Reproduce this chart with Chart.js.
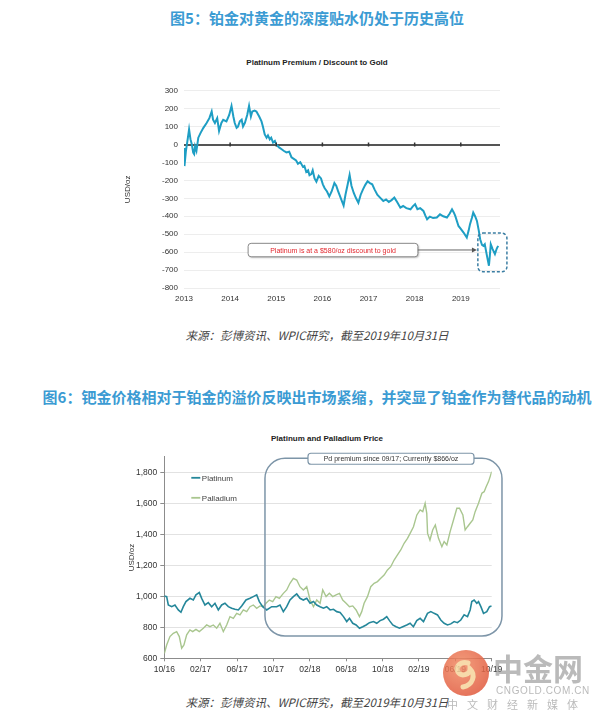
<!DOCTYPE html>
<html>
<head>
<meta charset="utf-8">
<title>铂金与钯金</title>
<script src="https://cdn.jsdelivr.net/npm/chart.js@4.4.1/dist/chart.umd.min.js"></script>
<style>
    html, body { margin: 0; padding: 0; background: #fff; }
    body { position: relative; width: 600px; height: 723px; overflow: hidden; font-family: "Noto Sans CJK SC", sans-serif; }
    .cn-title { position: absolute; left: 0; width: 634px; text-align: center; font-size: 15px; font-weight: bold; color: #3b9bd3; line-height: 20px; white-space: nowrap; }
    .en-title { position: absolute; width: 300px; text-align: center; font: bold 8px "Liberation Sans", Arial, sans-serif; color: #222; line-height: 10px; }
    .source { position: absolute; left: 0; width: 634px; text-align: center; font-size: 11.5px; font-style: italic; color: #444; line-height: 14px; }
    canvas { position: absolute; }
    .mark { position: absolute; color: rgba(140, 140, 140, 0.6); white-space: nowrap; }
</style>
</head>
<body>
<div class="cn-title" style="top: 8px;">图5：铂金对黄金的深度贴水仍处于历史高位</div>
<div class="en-title" style="left: 167px; top: 58px;">Platinum Premium / Discount to Gold</div>
<canvas id="premiumChart" width="410" height="260" style="left: 110px; top: 50px; width: 410px; height: 260px;"></canvas>
<div class="source" style="top: 328px;">来源：彭博资讯、WPIC研究，截至2019年10月31日</div>

<div class="cn-title" style="top: 387px;">图6：钯金价格相对于铂金的溢价反映出市场紧缩，并突显了铂金作为替代品的动机</div>
<div class="en-title" style="left: 177px; top: 434px;">Platinum and Palladium Price</div>
<canvas id="priceChart" width="410" height="255" style="left: 110px; top: 425px; width: 410px; height: 255px;"></canvas>
<div class="source" style="top: 695px;">来源：彭博资讯、WPIC研究，截至2019年10月31日</div>

<!-- watermark -->
<svg style="position:absolute; left:443px; top:650px; opacity:0.85;" width="46" height="46" viewBox="0 0 46 46">
    <defs>
        <radialGradient id="lg" cx="40%" cy="35%" r="70%">
            <stop offset="0" stop-color="#f28d66"/>
            <stop offset="1" stop-color="#e0583c"/>
        </radialGradient>
    </defs>
    <circle cx="23" cy="23" r="23" fill="url(#lg)"/>
    <path d="M25 13 C17 11 12 17 15 22 C18 27 27 25 27 19 C33 25 30 35 20 37" fill="none" stroke="#f6d49c" stroke-width="5" stroke-linecap="round"/>
</svg>
<div class="mark" style="left: 493px; top: 650px; font-size: 30px; font-weight: bold; line-height: 34px;">中金网</div>
<div class="mark" style="left: 496px; top: 685px; font: 10px 'Liberation Sans', sans-serif; letter-spacing: 0.6px; line-height: 12px;">CNGOLD.COM.CN</div>
<div class="mark" style="left: 447px; top: 697px; font-size: 11px; letter-spacing: 9px; line-height: 14px;">中文财经新媒体</div>

<script>
// Fig.5: platinum premium / discount to gold (USD/oz), x in decimal years
const premiumYears = [
    2013.00, 2013.01, 2013.04, 2013.08, 2013.11, 2013.14, 2013.17, 2013.20, 2013.22, 2013.24, 2013.27, 2013.31,
    2013.36, 2013.42, 2013.49, 2013.55, 2013.60, 2013.63, 2013.67, 2013.72, 2013.76, 2013.81, 2013.85, 2013.92, 2013.98,
    2014.03, 2014.07, 2014.10, 2014.14, 2014.17, 2014.21, 2014.25, 2014.28, 2014.32, 2014.37, 2014.41, 2014.45,
    2014.48, 2014.53, 2014.57, 2014.63, 2014.68, 2014.71, 2014.75, 2014.79, 2014.82, 2014.86, 2014.89, 2014.93, 2014.97,
    2015.00, 2015.06, 2015.11, 2015.16, 2015.22, 2015.28, 2015.33, 2015.38, 2015.43, 2015.47, 2015.52, 2015.58,
    2015.61, 2015.65, 2015.69, 2015.72, 2015.76, 2015.79, 2015.83, 2015.87, 2015.92, 2015.97,
    2016.01, 2016.05, 2016.10, 2016.15, 2016.20, 2016.26, 2016.30, 2016.34, 2016.40, 2016.46, 2016.50, 2016.55,
    2016.59, 2016.63, 2016.68, 2016.73, 2016.78, 2016.83, 2016.88, 2016.93, 2016.98,
    2017.03, 2017.08, 2017.13, 2017.19, 2017.25, 2017.32, 2017.38, 2017.44, 2017.50, 2017.56, 2017.62, 2017.69,
    2017.75, 2017.82, 2017.91, 2017.96,
    2018.01, 2018.06, 2018.12, 2018.19, 2018.23, 2018.27, 2018.33, 2018.40, 2018.48, 2018.55, 2018.62, 2018.70,
    2018.76, 2018.81, 2018.85, 2018.88, 2018.95,
    2019.00, 2019.06, 2019.13, 2019.17, 2019.20, 2019.24, 2019.27, 2019.31, 2019.35, 2019.39, 2019.42, 2019.46,
    2019.49, 2019.52, 2019.56, 2019.59, 2019.61, 2019.63, 2019.65, 2019.69, 2019.74, 2019.78, 2019.81
];
const premiumValues = [
    -20, -120, -40, 30, 84, 30, 0, -45, -53, -10, -35, 38,
    65, 93, 120, 147, 184, 138, 120, 147, 75, 120, 138, 129, 165,
    215, 156, 120, 93, 100, 129, 138, 100, 120, 165, 215, 156,
    184, 189, 184, 156, 129, 100, 56, 38, 51, 29, 38, 11, 20,
    0, -16, -25, -35, -44, -40, -71, -80, -89, -107, -98, -125,
    -120, -153, -144, -171, -165, -144, -189, -207, -175, -189,
    -222, -244, -262, -289, -262, -215, -230, -260, -300, -340, -280, -220,
    -170, -230, -270, -300, -325, -280, -250, -225, -205,
    -215, -222, -250, -280, -296, -315, -306, -320, -310, -296, -320, -352,
    -343, -355, -361, -345,
    -333, -361, -355, -370, -395, -417, -402, -410, -407, -389, -400, -407,
    -385, -361, -380, -398, -454,
    -470, -491, -519, -480, -444, -410, -380, -400, -426, -480, -528, -560,
    -565, -556, -611, -650, -676, -620, -556, -583, -611, -580, -565
];
const yearLabels = ['2013', '2014', '2015', '2016', '2017', '2018', '2019'];
const premiumTicks = [300, 200, 100, 0, -100, -200, -300, -400, -500, -600, -700, -800];

// Fig.6: prices in USD/oz, x = months since Oct 2016
const monthLabels = ['10/16', '02/17', '06/17', '10/17', '02/18', '06/18', '10/18', '02/19', '06/19', '10/19'];
const priceTicks = [600, 800, 1000, 1200, 1400, 1600, 1800];
const ptMonths = [
    0.00, 0.26, 0.44, 0.81, 1.17, 1.54, 1.83, 2.09, 2.38, 2.82, 3.19, 3.48, 3.85, 4.11, 4.47, 4.84, 5.21, 5.57,
    5.94, 6.31, 6.67, 7.04, 7.41, 7.77, 8.14, 8.51, 8.98, 9.42, 9.79, 10.16, 10.45, 10.82, 11.26, 11.81, 12.36,
    12.72, 13.09, 13.46, 13.82, 14.19, 14.56, 14.92, 15.29, 15.66, 16.03, 16.40, 16.76, 17.13, 17.50, 17.86,
    18.23, 18.60, 18.96, 19.33, 19.70, 20.06, 20.36, 20.72, 21.09, 21.46, 21.82, 22.19, 22.56, 23.00, 23.36,
    23.73, 24.10, 24.46, 24.76, 25.12, 25.49, 25.86, 26.22, 26.66, 27.03, 27.39, 27.76, 28.13, 28.50, 28.94,
    29.31, 29.67, 30.04, 30.40, 30.77, 31.14, 31.50, 31.87, 32.23, 32.60, 32.97, 33.34, 33.63, 33.81, 34.07,
    34.36, 34.55, 34.81, 35.10, 35.46, 35.76, 36.00
];
const ptPrices = [
    1002, 998, 944, 933, 944, 912, 897, 933, 966, 987, 976, 1009, 1024, 987, 944, 959, 933, 955,
    912, 944, 955, 933, 923, 916, 912, 938, 976, 987, 998, 1009, 966, 933, 912, 933, 933,
    944, 901, 933, 976, 998, 1015, 987, 976, 987, 955, 966, 944, 933, 923, 933,
    912, 916, 901, 895, 869, 837, 858, 826, 815, 794, 804, 815, 830, 837, 826,
    843, 852, 869, 843, 815, 804, 794, 804, 815, 826, 804, 843, 858, 837, 890,
    901, 890, 880, 847, 826, 815, 822, 837, 830, 847, 880, 869, 912, 966, 976,
    955, 966, 933, 890, 901, 933, 938
];
const pdMonths = [
    0.00, 0.26, 0.62, 0.99, 1.36, 1.65, 1.91, 2.16, 2.46, 2.82, 3.12, 3.48, 3.85, 4.29, 4.66, 5.02, 5.39, 5.76,
    6.12, 6.49, 6.86, 7.22, 7.59, 7.96, 8.32, 8.69, 9.06, 9.42, 9.79, 10.16, 10.52, 10.89, 11.18, 11.55, 11.92,
    12.28, 12.65, 13.09, 13.46, 13.82, 14.19, 14.56, 14.92, 15.29, 15.66, 16.03, 16.40, 16.76, 17.13, 17.42,
    17.79, 18.15, 18.52, 18.89, 19.26, 19.62, 19.99, 20.36, 20.72, 21.09, 21.46, 21.71, 21.97, 22.34, 22.70,
    23.07, 23.44, 23.80, 24.17, 24.54, 24.90, 25.27, 25.64, 26.00, 26.37, 26.74, 27.03, 27.40, 27.77, 28.13,
    28.42, 28.68, 28.86, 28.95, 29.21, 29.51, 29.80, 30.15, 30.52, 30.77, 31.07, 31.43, 31.80, 32.17, 32.46,
    32.83, 33.08, 33.34, 33.63, 33.92, 34.18, 34.55, 34.92, 35.17, 35.39, 35.65, 35.83, 36.00
];
const pdPrices = [
    630, 686, 740, 761, 772, 740, 665, 686, 751, 783, 772, 787, 772, 794, 815, 804, 815, 794,
    826, 772, 815, 869, 858, 890, 880, 912, 901, 933, 944, 923, 938, 933, 955, 976, 966,
    998, 987, 1019, 1041, 1084, 1116, 1105, 1062, 1041, 1062, 976, 933, 976, 955, 1041,
    998, 1019, 998, 1009, 1019, 976, 955, 933, 938, 912, 869, 901, 955, 998, 1062,
    1084, 1095, 1116, 1137, 1170, 1191, 1234, 1267, 1299, 1342, 1374, 1406, 1449, 1525, 1557,
    1546, 1600, 1535, 1406, 1363, 1428, 1460, 1374, 1320, 1353, 1331, 1417, 1492, 1568, 1568,
    1525, 1428, 1449, 1471, 1492, 1546, 1600, 1665, 1675, 1707, 1740, 1772, 1804
];

Chart.defaults.font.family = '"Liberation Sans", Arial, sans-serif';
Chart.defaults.color = '#333';

const tickFont = { size: 8 };
const clear = 'rgba(0,0,0,0)';

// callout, arrow and dashed box on the premium chart
const premiumNotes = {
    id: 'premiumNotes',
    afterDatasetsDraw(chart) {
        const { ctx, scales: { x, y } } = chart;
        const zeroY = y.getPixelForValue(0);
        ctx.save();

        // year marks on the zero line
        ctx.strokeStyle = '#333';
        ctx.lineWidth = 1.5;
        for (let i = 1; i < yearLabels.length; i++) {
            const px = x.getPixelForValue(Number(yearLabels[i]));
            ctx.beginPath();
            ctx.moveTo(px, zeroY - 2);
            ctx.lineTo(px, zeroY + 2);
            ctx.stroke();
        }

        const bx1 = x.getPixelForValue(2014.39), bx2 = x.getPixelForValue(2018.07);
        const by1 = y.getPixelForValue(-551), by2 = y.getPixelForValue(-626);
        ctx.shadowColor = 'rgba(0,0,0,0.3)';
        ctx.shadowBlur = 2;
        ctx.shadowOffsetX = 1;
        ctx.shadowOffsetY = 1;
        ctx.fillStyle = '#fff';
        ctx.beginPath();
        ctx.roundRect(bx1, by1, bx2 - bx1, by2 - by1, 3);
        ctx.fill();
        ctx.shadowColor = clear;
        ctx.strokeStyle = '#8a8a8a';
        ctx.lineWidth = 1;
        ctx.stroke();
        ctx.fillStyle = '#e2262d';
        ctx.font = '7px "Liberation Sans", Arial, sans-serif';
        ctx.textAlign = 'center';
        ctx.textBaseline = 'middle';
        ctx.fillText('Platinum is at a $580/oz discount to gold', (bx1 + bx2) / 2, (by1 + by2) / 2 + 0.5);

        // arrow to the dashed box
        const ay = y.getPixelForValue(-588);
        const ax = x.getPixelForValue(2019.35);
        ctx.strokeStyle = '#666';
        ctx.beginPath();
        ctx.moveTo(bx2, ay);
        ctx.lineTo(ax - 4, ay);
        ctx.stroke();
        ctx.fillStyle = '#555';
        ctx.beginPath();
        ctx.moveTo(ax, ay);
        ctx.lineTo(ax - 5, ay - 2.5);
        ctx.lineTo(ax - 5, ay + 2.5);
        ctx.closePath();
        ctx.fill();

        const dx1 = x.getPixelForValue(2019.37), dx2 = x.getPixelForValue(2020.0);
        const dy1 = y.getPixelForValue(-494), dy2 = y.getPixelForValue(-709);
        ctx.setLineDash([3, 2]);
        ctx.strokeStyle = '#3b7ea3';
        ctx.lineWidth = 1.5;
        ctx.beginPath();
        ctx.roundRect(dx1, dy1, dx2 - dx1, dy2 - dy1, 5);
        ctx.stroke();
        ctx.restore();
    }
};

// legend inside the plot, rounded frame and its label
const priceNotes = {
    id: 'priceNotes',
    afterDatasetsDraw(chart) {
        const { ctx, chartArea, scales: { x, y } } = chart;
        ctx.save();

        const fx1 = x.getPixelForValue(11.07), fx2 = x.getPixelForValue(37.13);
        const fy1 = y.getPixelForValue(1890), fy2 = y.getPixelForValue(744);
        ctx.strokeStyle = '#7d95a8';
        ctx.lineWidth = 1.5;
        ctx.beginPath();
        ctx.roundRect(fx1, fy1, fx2 - fx1, fy2 - fy1, 20);
        ctx.stroke();

        const lx1 = x.getPixelForValue(15.8), lx2 = x.getPixelForValue(34.05);
        const ly1 = y.getPixelForValue(1923), ly2 = y.getPixelForValue(1852);
        ctx.fillStyle = '#fff';
        ctx.lineWidth = 1.2;
        ctx.beginPath();
        ctx.roundRect(lx1, ly1, lx2 - lx1, ly2 - ly1, 3);
        ctx.fill();
        ctx.stroke();
        ctx.fillStyle = '#333';
        ctx.font = '7px "Liberation Sans", Arial, sans-serif';
        ctx.textAlign = 'center';
        ctx.textBaseline = 'middle';
        ctx.fillText('Pd premium since 09/17; Currently $866/oz', (lx1 + lx2) / 2, (ly1 + ly2) / 2 + 0.5);

        // legend
        ctx.textAlign = 'left';
        ctx.font = '8px "Liberation Sans", Arial, sans-serif';
        chart.data.datasets.forEach((ds, i) => {
            const ry = chartArea.top + 21 + i * 20;
            ctx.strokeStyle = ds.borderColor;
            ctx.lineWidth = 1.8;
            ctx.beginPath();
            ctx.moveTo(chartArea.left + 27, ry);
            ctx.lineTo(chartArea.left + 36, ry);
            ctx.stroke();
            ctx.fillStyle = '#444';
            ctx.fillText(ds.label, chartArea.left + 37.5, ry + 0.5);
        });
        ctx.restore();
    }
};

new Chart(document.getElementById('premiumChart'), {
    type: 'line',
    data: {
        datasets: [{
            label: 'Platinum premium / discount',
            data: premiumYears.map((yr, i) => ({ x: yr, y: premiumValues[i] })),
            borderColor: '#1e9ec4',
            borderWidth: 2,
            pointRadius: 0,
            tension: 0,
            fill: false,
        }],
    },
    options: {
        responsive: false,
        animation: false,
        devicePixelRatio: 1,
        layout: { padding: { top: 40.7, right: 20, bottom: 0, left: 0 } },
        plugins: { legend: { display: false }, title: { display: false }, tooltip: { enabled: false } },
        scales: {
            x: {
                type: 'linear',
                min: 2013,
                max: 2019.85,
                grid: { display: false, drawTicks: false },
                border: { display: false },
                afterBuildTicks: (s) => { s.ticks = yearLabels.map((lab) => ({ value: Number(lab) })); },
                ticks: {
                    autoSkip: false,
                    maxRotation: 0,
                    padding: 6,
                    font: tickFont,
                    color: '#333',
                    callback: (v) => String(v),
                },
                afterFit: (s) => { s.height = 22; },
            },
            y: {
                min: -800,
                max: 300,
                grid: {
                    drawTicks: false,
                    color: (c) => (c.tick.value === 0 ? '#555' : '#ededed'),
                    lineWidth: (c) => (c.tick.value === 0 ? 2 : 1),
                },
                border: { display: false },
                afterBuildTicks: (s) => { s.ticks = premiumTicks.map((v) => ({ value: v })); },
                ticks: { padding: 6, font: tickFont, color: '#333', callback: (v) => String(v) },
                title: { display: true, text: 'USD/oz', font: { size: 8 }, color: '#333', padding: { top: 13, bottom: 0 } },
                afterFit: (s) => { s.width = 74; },
            },
        },
    },
    plugins: [premiumNotes],
});

new Chart(document.getElementById('priceChart'), {
    type: 'line',
    data: {
        datasets: [
            {
                label: 'Platinum',
                data: ptMonths.map((m, i) => ({ x: m, y: ptPrices[i] })),
                borderColor: '#25879a',
                borderWidth: 1.6,
                pointRadius: 0,
                tension: 0,
                fill: false,
            },
            {
                label: 'Palladium',
                data: pdMonths.map((m, i) => ({ x: m, y: pdPrices[i] })),
                borderColor: '#a9c68f',
                borderWidth: 1.4,
                pointRadius: 0,
                tension: 0,
                fill: false,
            },
        ],
    },
    options: {
        responsive: false,
        animation: false,
        devicePixelRatio: 1,
        layout: { padding: { top: 31.8, right: 28.3, bottom: 0, left: 0 } },
        plugins: { legend: { display: false }, title: { display: false }, tooltip: { enabled: false } },
        scales: {
            x: {
                type: 'linear',
                min: 0,
                max: 36,
                grid: { drawOnChartArea: false, drawTicks: true, tickLength: 3, tickColor: '#8c8c8c' },
                border: { display: true, color: '#8c8c8c', width: 1 },
                afterBuildTicks: (s) => { s.ticks = monthLabels.map((lab, i) => ({ value: i * 4 })); },
                ticks: {
                    autoSkip: false,
                    maxRotation: 0,
                    padding: 3,
                    font: { size: 8.5 },
                    color: '#333',
                    callback: (v) => monthLabels[Math.round(v / 4)],
                },
                afterFit: (s) => { s.height = 21.7; },
            },
            y: {
                min: 600,
                max: 1900,
                grid: {
                    tickLength: 4,
                    color: (c) => (c.tick.value > 600 ? '#e2e2e2' : clear),
                    tickColor: '#8c8c8c',
                },
                border: { display: true, color: '#8c8c8c', width: 1 },
                afterBuildTicks: (s) => { s.ticks = priceTicks.map((v) => ({ value: v })); },
                ticks: {
                    padding: 3,
                    font: { size: 8.5 },
                    color: '#333',
                    callback: (v) => v.toLocaleString('en-US'),
                },
                title: { display: true, text: 'USD/oz', font: { size: 8 }, color: '#333', padding: { top: 17, bottom: 0 } },
                afterFit: (s) => { s.width = 54.3; },
            },
        },
    },
    plugins: [priceNotes],
});
</script>
</body>
</html>
